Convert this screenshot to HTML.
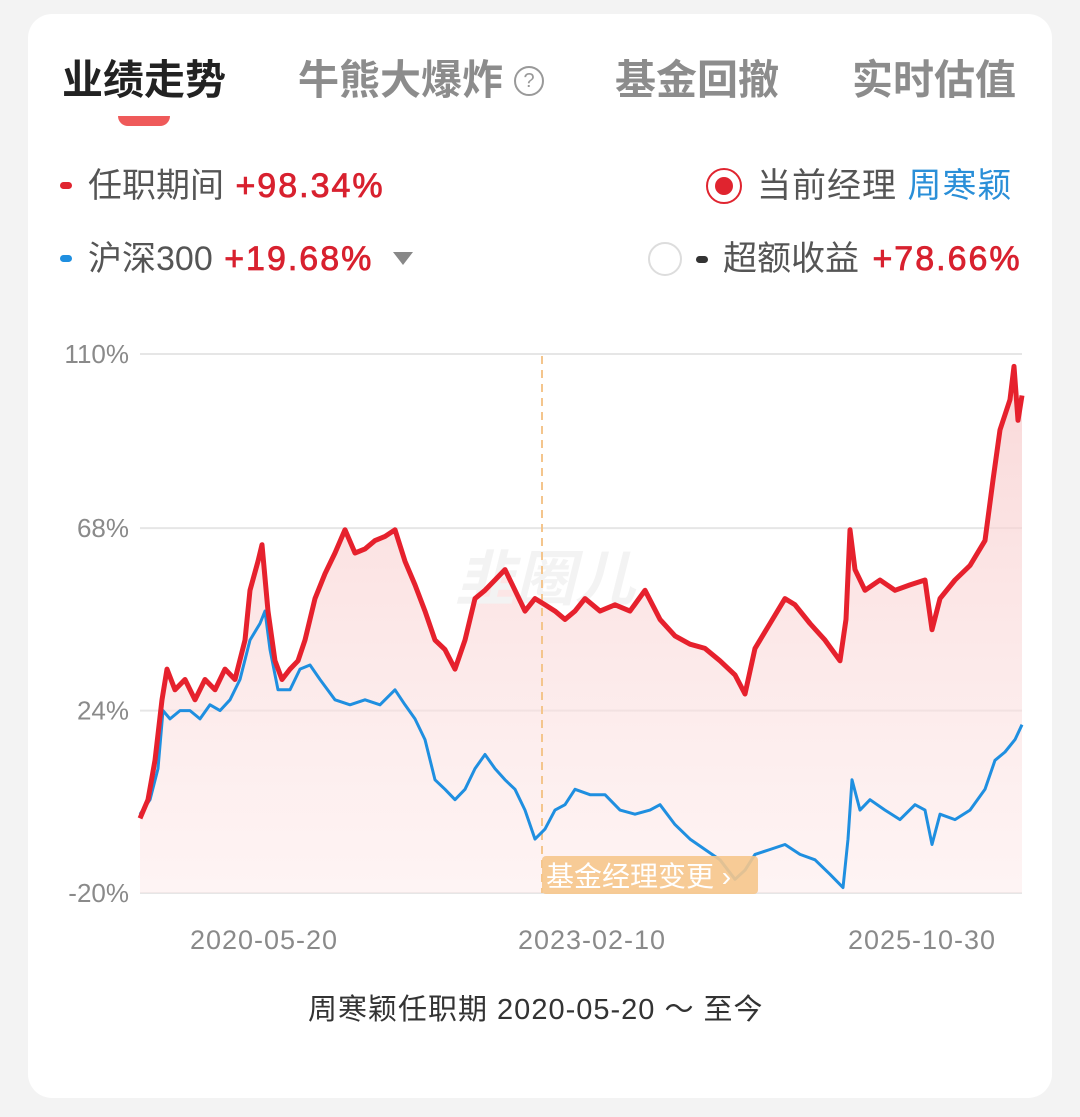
<!DOCTYPE html>
<html><head><meta charset="utf-8">
<style>
body{margin:0;width:1080px;height:1117px;background:#f3f3f3;font-family:"Liberation Sans","Noto Sans CJK SC",sans-serif;position:relative;overflow:hidden}
.card{position:absolute;left:28px;top:14px;width:1024px;height:1084px;background:#fff;border-radius:24px}
.t{position:absolute;white-space:nowrap;line-height:1}
.tab{font-size:41px;font-weight:bold;color:#8c8c8c;top:60px}
.lg{font-size:34px;color:#555}
.red{color:#d8212f;font-weight:normal;-webkit-text-stroke:0.8px #d8212f;letter-spacing:2px}
</style></head><body>
<div class="card"></div>
<div class="t tab" style="left:62px;color:#222">业绩走势</div>
<div style="position:absolute;left:118px;top:116px;width:52px;height:10px;border-radius:0 0 26px 26px;background:#ef5a5a"></div>
<div class="t tab" style="left:298px">牛熊大爆炸</div>
<div class="t" style="left:514px;top:66px;width:26px;height:26px;border:2px solid #999;border-radius:50%;font-size:20px;color:#999;text-align:center;line-height:26px">?</div>
<div class="t tab" style="left:615px">基金回撤</div>
<div class="t tab" style="left:852px">实时估值</div>

<div style="position:absolute;left:60px;top:182px;width:12px;height:7px;border-radius:4px;background:#e0242f"></div>
<div class="t lg" style="left:88px;top:169px">任职期间 <span class="red" style="margin-left:2px">+98.34%</span></div>
<div style="position:absolute;left:60px;top:255px;width:12px;height:7px;border-radius:4px;background:#1f8fe0"></div>
<div class="t lg" style="left:88px;top:242px">沪深300 <span class="red" style="margin-left:2px">+19.68%</span></div>
<div class="t" style="left:393px;top:252px;width:0;height:0;border-left:10px solid transparent;border-right:10px solid transparent;border-top:13px solid #888"></div>

<div style="position:absolute;left:706px;top:168px;width:36px;height:36px;border:2px solid #e0242f;border-radius:50%;box-sizing:border-box"><div style="position:absolute;left:7px;top:7px;width:18px;height:18px;border-radius:50%;background:#e0242f"></div></div>
<div class="t lg" style="left:757px;top:169px;letter-spacing:1px">当前经理 <span style="color:#2a8fd8">周寒颖</span></div>
<div style="position:absolute;left:648px;top:242px;width:34px;height:34px;border:2px solid #ddd;border-radius:50%;box-sizing:border-box"></div>
<div style="position:absolute;left:696px;top:256px;width:12px;height:7px;border-radius:4px;background:#333"></div>
<div class="t lg" style="left:723px;top:242px">超额收益 <span class="red" style="margin-left:4px">+78.66%</span></div>

<svg id="chart" width="1080" height="1117" style="position:absolute;left:0;top:0"></svg>
<div class="t" style="left:308px;top:996px;font-size:29px;color:#333;letter-spacing:1px">周寒颖任职期 2020-05-20 ～ 至今</div>

<script>
const yTicks=[110,68,24,-20];
const yTickLabels=["110%","68%","24%","-20%"];
const xTickDays=[124,452,782];
const xTickLabels=["2020-05-20","2023-02-10","2025-10-30"];
const managerChangeDay=402;
const fundDays=[0,8,15,22,27,35,45,55,65,75,85,95,105,110,118,122,128,135,142,150,158,165,175,185,195,205,215,225,235,245,255,265,275,285,295,305,315,325,335,345,355,365,375,385,395,405,415,425,435,445,460,475,490,505,520,535,550,565,580,595,605,615,630,645,655,670,685,700,706,710,715,725,740,755,770,785,792,800,815,830,845,853,860,870,874,878,882];
const fundValues=[-2,2.5,12,26.6,34,29,31.5,26.6,31.5,29,34,31.5,41,53,60,64,48,36,31.5,34,36,41,51,57,62,67.6,62,63,65,66,67.6,60,54.3,48,41,38.7,34,41,51,53,55.5,58,53,48,51,49.5,48,46,48,51,48,49.5,48,53,46,42,40,39,36,32.6,28,39,45,51,49.5,45,41,36,46,67.6,58,53,55.5,53,54.3,55.5,43.5,51,55.5,59,65,79.6,91.7,99,107,94,100];
const indexDays=[0,10,18,23,30,40,50,60,70,80,90,100,110,120,125,130,138,150,160,170,180,195,210,225,240,255,265,275,285,295,305,315,325,335,345,355,365,375,385,395,405,415,425,435,450,465,480,495,510,520,535,550,565,580,595,605,615,630,645,660,675,690,703,708,712,720,730,745,760,775,785,792,800,815,830,845,855,865,875,882];
const indexValues=[-1,2.5,10,24,22,24,24,22,25.4,24,26.6,31.5,41,45,48,38.7,29,29,34,35,31.5,26.6,25.4,26.6,25.4,29,25.4,22,17,7.3,5,2.5,5,10,13.4,10,7.3,5,0,-7,-4.6,0,1.3,5,3.7,3.7,0,-1,0,1.3,-3.5,-7,-9.5,-12,-16.7,-14.5,-10.7,-9.5,-8.3,-10.7,-12,-15.5,-18.7,-7,7.3,0,2.5,0,-2.3,1.3,0,-8.3,-1,-2.3,0,5,12,14,17,20.6];

const NS="http://www.w3.org/2000/svg";
const svg=document.getElementById('chart');
const X0=140,X1=1022,DMAX=882;
const xs=d=>X0+(X1-X0)*d/DMAX;
const ys=v=>354+(110-v)*(893-354)/130;
function mk(tag,attrs){const e=document.createElementNS(NS,tag);for(const k in attrs)e.setAttribute(k,attrs[k]);svg.appendChild(e);return e;}

const defs=mk('defs',{});
defs.innerHTML='<linearGradient id="fg" x1="0" y1="0" x2="0" y2="1"><stop offset="0" stop-color="#f7c8c8" stop-opacity="0.7"/><stop offset="1" stop-color="#fde9e9" stop-opacity="0.5"/></linearGradient>';

yTicks.forEach((v,i)=>{
  const g=mk('line',{x1:X0,x2:X1,y1:ys(v),y2:ys(v),stroke:'#e6e6e6','stroke-width':2});
  
  
  const t=mk('text',{x:129,y:ys(v)+9,'text-anchor':'end','font-size':26,fill:'#8a8a8a','font-family':'Liberation Sans, sans-serif'});
  t.textContent=yTickLabels[i];
  
  
});
xTickDays.forEach((d,i)=>{
  const t=mk('text',{x:xs(d),y:949,'text-anchor':'middle','font-size':27,fill:'#8a8a8a','letter-spacing':1,'font-family':'Liberation Sans, sans-serif'});
  t.textContent=xTickLabels[i];
  
  
});

const fpts=fundDays.map((d,i)=>xs(d).toFixed(1)+','+ys(fundValues[i]).toFixed(1));
const area=mk('path',{d:'M'+xs(fundDays[0])+','+ys(-20)+' L'+fpts.join(' L')+' L'+xs(fundDays[fundDays.length-1])+','+ys(-20)+' Z',fill:'url(#fg)'});



const wm=mk('text',{x:545,y:600,'text-anchor':'middle','font-size':60,'font-weight':'bold',fill:'#f3f3f3','font-style':'italic'});
wm.textContent='韭圈儿';



const ml=mk('line',{x1:xs(managerChangeDay),x2:xs(managerChangeDay),y1:356,y2:893,stroke:'#f4c58c','stroke-width':2,'stroke-dasharray':'8,6'});



const ip=mk('polyline',{points:indexDays.map((d,i)=>xs(d).toFixed(1)+','+ys(indexValues[i]).toFixed(1)).join(' '),fill:'none',stroke:'#1f8fe0','stroke-width':3,'stroke-linejoin':'round'});


const fp=mk('polyline',{points:fpts.join(' '),fill:'none',stroke:'#e6212d','stroke-width':5,'stroke-linejoin':'round'});



const bx=mk('rect',{x:xs(managerChangeDay),y:856,width:216,height:38,rx:4,fill:'#f6c68c','fill-opacity':0.9});


const bt=mk('text',{x:xs(managerChangeDay)+4,y:886,'font-size':28,fill:'#fff','font-family':'Liberation Sans, Noto Sans CJK SC, sans-serif'});
bt.textContent='基金经理变更 ›';


</script>
</body></html>
